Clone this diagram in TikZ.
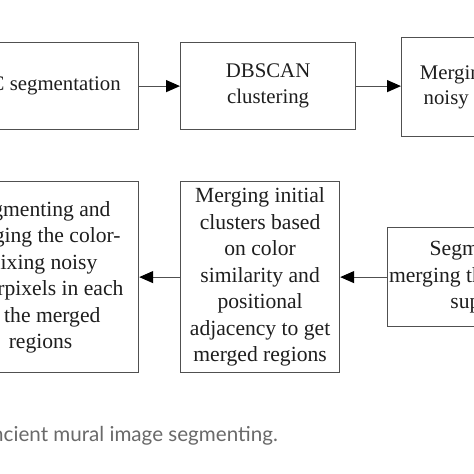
\documentclass[tikz,border=0pt]{standalone}
\usepackage{fontspec}
\setmainfont{Liberation Serif}
\newfontfamily\capfont{Lato}
\usetikzlibrary{arrows.meta}
\definecolor{boxline}{HTML}{505050}
\definecolor{txt}{HTML}{1E1E1E}
\definecolor{captxt}{HTML}{6A6A6A}
\tikzset{
  flowbox/.style={draw=boxline, line width=1.2pt, inner sep=0pt, align=center,
    text=txt, anchor=north west},
  toprow/.style={font=\fontsize{20.8}{25.5}\selectfont},
  botrow/.style={font=\fontsize{21.6}{26.5}\selectfont},
  flowarrow/.style={draw=boxline, line width=1.2pt,
    -{Triangle[length=14pt,width=12pt,fill=black,color=black]}}
}
\begin{document}
\begin{tikzpicture}[x=1pt,y=-1pt]
\useasboundingbox (0,0) rectangle (474,474);
\fill[white] (0,0) rectangle (474,474);
\clip (0,0) rectangle (474,474);
% top row
\node[flowbox,toprow,minimum width=197pt,minimum height=87pt] (b1) at (-59,42) {SLIC segmentation};
\node[flowbox,toprow,minimum width=175pt,minimum height=87pt] (b2) at (180,42) {DBSCAN\\clustering};
\node[flowbox,toprow,minimum width=158pt,minimum height=99pt] (b3) at (401,37) {Merging small\\noisy clusters};
% bottom row
\node[flowbox,botrow,minimum width=224pt,minimum height=99pt] (b4) at (387,227) {Segmenting and\\merging the color-mixing\\superpixels};
\node[flowbox,botrow,minimum width=159pt,minimum height=191pt] (b5) at (180,181) {Merging initial\\clusters based\\on color\\similarity and\\positional\\adjacency to get\\merged regions};
\node[flowbox,botrow,minimum width=196pt,minimum height=191pt] (b6) at (-58,181) {Segmenting and\\merging the color-\\mixing noisy\\superpixels in each\\of the merged\\regions};
% connectors
\draw[flowarrow] (b1.east) -- (b2.west);
\draw[flowarrow] (b2.east) -- (b2.east -| b3.west);
\draw[flowarrow] (b4.west) -- (b5.east);
\draw[flowarrow] (b5.west) -- (b6.east);
% caption
\node[anchor=east, inner sep=0pt, text=captxt, font=\capfont\fontsize{20.6}{24}\selectfont] (cap) at (278,436) {ancient mural image segmenting.};
\end{tikzpicture}
\end{document}
